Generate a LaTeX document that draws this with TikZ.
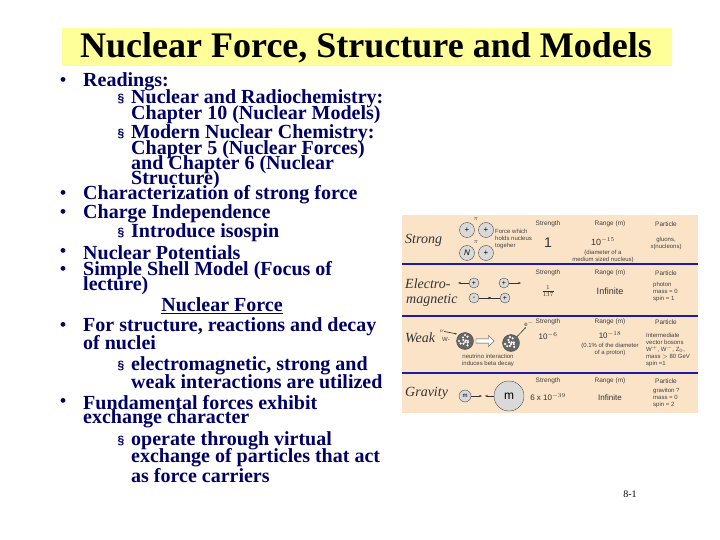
\documentclass[tikz,border=0pt]{standalone}
\usepackage{fontspec}
\setmainfont{Liberation Serif}
\newfontfamily\sans{Liberation Sans}
\usetikzlibrary{arrows.meta,shapes.arrows}
\definecolor{navy}{HTML}{000066}
\definecolor{peach}{HTML}{FBE3C8}
\definecolor{bandblue}{HTML}{1C1CA8}
\definecolor{ttl}{HTML}{FFFF99}
\begin{document}
\begin{tikzpicture}[x=1pt,y=-1pt,
  body/.style={anchor=west,inner sep=0,font=\fontsize{20}{16}\selectfont\bfseries,text=navy},
  bul/.style={anchor=center,inner sep=0,font=\fontsize{20}{20}\selectfont,text=navy},
  sbul/.style={anchor=center,inner sep=0,font=\fontsize{12}{12}\selectfont,text=navy},
  rowlab/.style={anchor=west,inner sep=0,font=\fontsize{14}{14}\selectfont\itshape,text=black!80},
  hd/.style={inner sep=0,font=\sans\fontsize{6.5}{7}\selectfont,text=black!75},
  sm/.style={inner sep=0,font=\sans\fontsize{6}{7}\selectfont,text=black!75,align=center},
  big/.style={inner sep=0,font=\sans\fontsize{9}{9}\selectfont,text=black!80},
  pc/.style={circle,draw=black!70,fill=black!15,inner sep=0,minimum size=#1,font=\sans\fontsize{8}{8}\selectfont},
  arr/.style={-{Stealth[length=3pt]},black!80,line width=0.6pt}]
\useasboundingbox (0,0) rectangle (720,540);
\fill[white] (0,0) rectangle (720,540);
% title
\fill[ttl] (62,28) rectangle (672,66);
\node[inner sep=0,font=\fontsize{36}{36}\selectfont\bfseries] (title) at (366,48) {Nuclear Force, Structure and Models};
% left text
\foreach \n/\y/\t in {b1/82/Readings:, b2/195/Characterization of strong force, b3/214/Charge Independence, b4/253/Nuclear Potentials, b5/271/Simple Shell Model (Focus of, b6/327/{For structure, reactions and decay}, b7/403/Fundamental forces exhibit}
  {\node[bul] (d\n) at (63,\y) {•}; \node[body] (\n) at (83,\y) {\t};}
\node[body] (b5b) at (83,286) {lecture)};
\node[body] (b6b) at (83,343) {of nuclei};
\node[body] (b7b) at (83,419) {exchange character};
\foreach \n/\y in {s1/99,s2/134,s3/233,s4/366,s5/441}
  {\node[sbul] (d\n) at (121,\y) {\sans\textbf{§}};}
\node[body] (s1) at (131,99) {Nuclear and Radiochemistry:};
\node[body] (s1b) at (131,115) {Chapter 10 (Nuclear Models)};
\node[body] (s2) at (131,134) {Modern Nuclear Chemistry:};
\node[body] (s2b) at (131,150) {Chapter 5 (Nuclear Forces)};
\node[body] (s2c) at (131,165) {and Chapter 6 (Nuclear};
\node[body] (s2d) at (131,180) {Structure)};
\node[body] (s3) at (131,233) {Introduce isospin};
\node[body] (s4) at (131,366) {electromagnetic, strong and};
\node[body] (s4b) at (131,382) {weak interactions are utilized};
\node[body] (s5) at (131,441) {operate through virtual};
\node[body] (s5b) at (131,458) {exchange of particles that act};
\node[body] (s5c) at (131,476) {as force carriers};
\node[body,anchor=center] (nf) at (222,306) {\underline{Nuclear Force}};
\node[inner sep=0,font=\fontsize{10}{10}\selectfont] (pg) at (630,494) {8-1};
% panel
\fill[peach] (402,215) rectangle (698,413);
\draw[bandblue,line width=2.5pt] (402,264) -- (698,264) (402,316) -- (698,316) (402,373) -- (698,373);
% Strong
\node[rowlab] (lstrong) at (405,240) {Strong};
\node[pc=15pt] (p1) at (467,230) {+};
\node[pc=15pt] (p2) at (486,230) {+};
\node[pc=15pt] (n1) at (467,253) {\itshape N};
\node[pc=15pt] (p3) at (486,253) {+};
\node[sm] (pi1) at (476,219) {$\pi$};
\node[sm] (pi2) at (476,242) {$\pi$};
\node[sm,anchor=west,align=left] (fw) at (495,239) {Force which\\holds nucleus\\togeher};
\node[hd] (h1a) at (548,224) {Strength};
\node[big,font=\sans\fontsize{14}{14}\selectfont] (v1a) at (548,243) {1};
\node[hd] (h1b) at (610,224) {Range (m)};
\node[big] (v1b) at (603,242) {10$^{-15}$};
\node[sm] (n1b) at (603,256) {(diameter of a\\medium sized nucleus)};
\node[hd] (h1c) at (666,224) {Particle};
\node[sm] (v1c) at (666,243) {gluons,\\x(nucleons)};
% EM
\node[rowlab] (lem1) at (405,284) {Electro-};
\node[rowlab] (lem2) at (406,300) {magnetic};
\node[pc=10pt,font=\sans\fontsize{7}{7}\selectfont] (e1) at (474,283) {+};
\node[pc=10pt,font=\sans\fontsize{7}{7}\selectfont] (e2) at (504,283) {+};
\node[pc=10pt,font=\sans\fontsize{7}{7}\selectfont] (e3) at (474,298) {-};
\node[pc=10pt,font=\sans\fontsize{7}{7}\selectfont] (e4) at (505,298) {+};
\coordinate (ea) at (458,283); \coordinate (eb) at (521,283);
\coordinate (ec) at (491,298); \coordinate (ed) at (488,298);
\draw[arr] (e1) -- (ea); \draw[arr] (e2) -- (eb);
\draw[arr] (e3) -- (ec); \draw[arr] (e4) -- (ed);
\node[hd] (h2a) at (548,273) {Strength};
\node[big] (v2a) at (548,291) {$\frac{1}{137}$};
\node[hd] (h2b) at (610,273) {Range (m)};
\node[big] (v2b) at (610,291) {Infinite};
\node[hd] (h2c) at (666,273) {Particle};
\node[sm,align=left,anchor=west] (v2c) at (653,292) {photon\\mass = 0\\spin = 1};
% Weak
\node[rowlab] (lweak) at (405,338) {Weak};
\node[sm] (nu) at (442,331) {$\nu$};
\node[sm] (wm) at (446,339) {W-};
\coordinate (nuend) at (457,334);
\draw[arr,-{Stealth[length=2pt]}] (nu) -- (nuend);
\node[circle,fill=black!60,draw=black!70,minimum size=17pt,inner sep=0,
  path picture={\foreach \a/\r in {0/3,60/5,120/4,180/6,240/3,300/5,30/1,90/6,150/2,210/5,270/1,330/3}
     \fill[white] (path picture bounding box.center) ++(\a:\r pt) circle (1.2pt);}] (nuc1) at (465,341) {};
\node[single arrow,draw=black!70,fill=white,minimum height=18pt,minimum width=11pt,single arrow head extend=2pt,inner sep=1pt] (harr) at (484,341) {};
\node[circle,fill=black!60,draw=black!70,minimum size=17pt,inner sep=0,
  path picture={\foreach \a/\r in {10/3,70/5,130/4,190/6,250/3,310/5,40/1,100/6,160/2,220/5,280/1,340/3}
     \fill[white] (path picture bounding box.center) ++(\a:\r pt) circle (1.2pt);}] (nuc2) at (511,343) {};
\node[sm] (em) at (529,324) {e$^-$};
\draw[arr,-{Stealth[length=2pt]}] (nuc2) -- (em);
\node[sm] (wtxt) at (488,360) {neutrino interaction\\induces beta decay};
\node[hd] (h3a) at (548,322) {Strength};
\node[big,font=\sans\fontsize{8}{8}\selectfont] (v3a) at (548,336) {10$^{-6}$};
\node[hd] (h3b) at (610,322) {Range (m)};
\node[big,font=\sans\fontsize{8}{8}\selectfont] (v3b) at (610,335) {10$^{-18}$};
\node[sm] (n3b) at (610,349) {(0.1\% of the diameter\\of a proton)};
\node[hd] (h3c) at (666,322) {Particle};
\node[sm,align=left,anchor=west] (v3c) at (646,350) {Intermediate\\vector bosons\\W$^{+}$, W$^{-}$, Z$_{0}$,\\mass $>$ 80 GeV\\spin =1};
% Gravity
\node[rowlab] (lgrav) at (405,393) {Gravity};
\node[pc=12pt,font=\sans\fontsize{6}{6}\selectfont] (m1) at (465,396) {m};
\node[pc=30pt,font=\sans\fontsize{12}{12}\selectfont] (m2) at (509,396) {m};
\coordinate (ga) at (482,396); \coordinate (gb) at (485,396);
\draw[arr] (m1) -- (ga); \draw[arr] (m2) -- (gb);
\node[hd] (h4a) at (548,381) {Strength};
\node[big,font=\sans\fontsize{8}{8}\selectfont] (v4a) at (548,397) {6 x 10$^{-39}$};
\node[hd] (h4b) at (610,381) {Range (m)};
\node[big,font=\sans\fontsize{8}{8}\selectfont] (v4b) at (610,398) {Infinite};
\node[hd] (h4c) at (666,381) {Particle};
\node[sm,align=left,anchor=west] (v4c) at (653,398) {graviton ?\\mass = 0\\spin = 2};
\end{tikzpicture}
\end{document}
